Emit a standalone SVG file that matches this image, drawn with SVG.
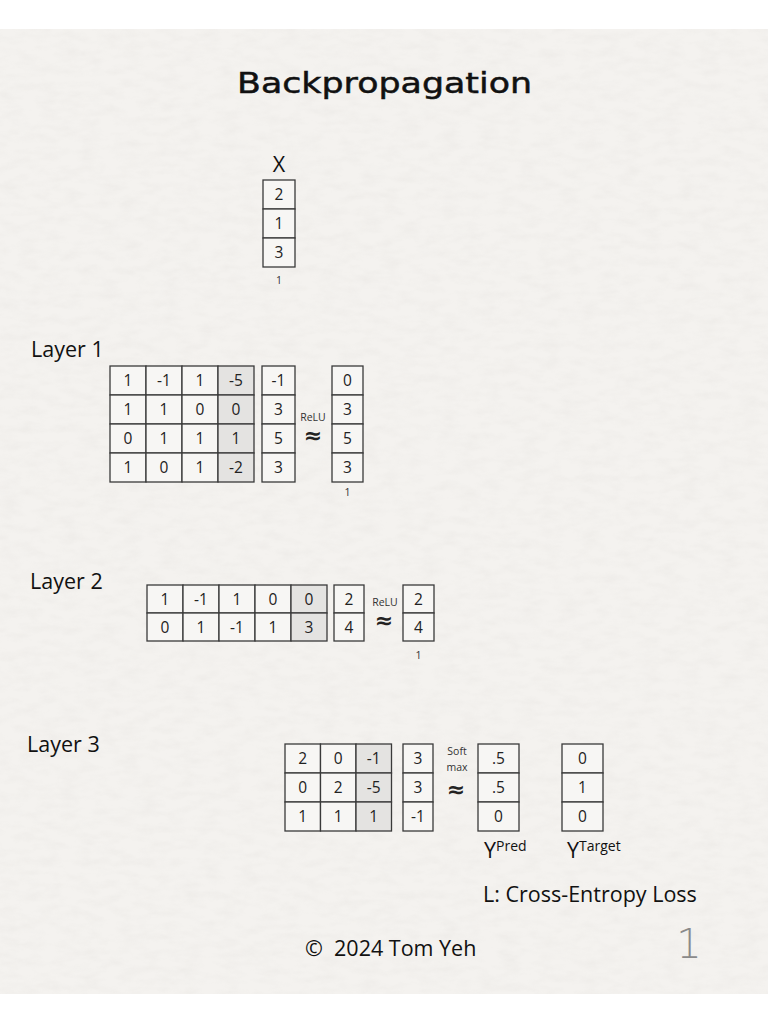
<svg xmlns="http://www.w3.org/2000/svg" width="768" height="1024" viewBox="0 0 768 1024">
<defs>
<filter id="paper" x="0" y="0" width="100%" height="100%">
<feTurbulence type="fractalNoise" baseFrequency="0.05 0.12" numOctaves="3" seed="4" result="n"/>
<feColorMatrix in="n" type="matrix" values="0 0 0 0 0.55  0 0 0 0 0.53  0 0 0 0 0.5  0 0 0 -0.9 0.55" result="c"/>
<feComposite in="c" in2="SourceGraphic" operator="in"/>
</filter>
</defs>
<style>
.cell{fill:#f7f6f4;stroke:#3a3a3a;stroke-width:1.3}
.sh{fill:#e4e3e1;stroke:#3a3a3a;stroke-width:1.3}
.v{font-family:"Open Sans","Liberation Sans",sans-serif;font-size:15.5px;fill:#222;text-anchor:middle}
.lbl{font-family:"Open Sans","Liberation Sans",sans-serif;font-size:21.5px;fill:#111}
.sm{font-family:"Open Sans","Liberation Sans",sans-serif;font-size:10.5px;fill:#333;text-anchor:middle}
.ap{font-family:"DejaVu Sans",sans-serif;font-size:22px;font-weight:bold;fill:#222;text-anchor:middle}
</style>
<rect x="0" y="0" width="768" height="1024" fill="#ffffff"/>
<rect x="0" y="29" width="768" height="965" fill="#f4f2ef"/>
<rect x="0" y="29" width="768" height="965" fill="#f4f2ef" filter="url(#paper)" opacity="0.22"/>

<g id="title">
<text x="237" y="93" font-family="DejaVu Sans, sans-serif" font-size="29" fill="#111" stroke="#111" stroke-width="0.5" textLength="295" lengthAdjust="spacingAndGlyphs">Backpropagation</text>
</g>

<g id="x-vector">
<text x="279" y="172" class="lbl" text-anchor="middle" font-size="19">X</text>
<rect class="cell" x="263" y="180" width="32" height="29"/>
<rect class="cell" x="263" y="209" width="32" height="29"/>
<rect class="cell" x="263" y="238" width="32" height="29"/>
<text class="v" x="279" y="200">2</text>
<text class="v" x="279" y="229">1</text>
<text class="v" x="279" y="258">3</text>
<text class="sm" x="279" y="284">1</text>
</g>

<g id="layer1">
<text class="lbl" x="31" y="357">Layer 1</text>
<g id="layer1-weights">
<rect class="cell" x="110" y="366" width="36" height="29"/><rect class="cell" x="146" y="366" width="36" height="29"/><rect class="cell" x="182" y="366" width="36" height="29"/><rect class="sh" x="218" y="366" width="36" height="29"/>
<rect class="cell" x="110" y="395" width="36" height="29"/><rect class="cell" x="146" y="395" width="36" height="29"/><rect class="cell" x="182" y="395" width="36" height="29"/><rect class="sh" x="218" y="395" width="36" height="29"/>
<rect class="cell" x="110" y="424" width="36" height="29"/><rect class="cell" x="146" y="424" width="36" height="29"/><rect class="cell" x="182" y="424" width="36" height="29"/><rect class="sh" x="218" y="424" width="36" height="29"/>
<rect class="cell" x="110" y="453" width="36" height="29"/><rect class="cell" x="146" y="453" width="36" height="29"/><rect class="cell" x="182" y="453" width="36" height="29"/><rect class="sh" x="218" y="453" width="36" height="29"/>
<text class="v" x="128" y="386">1</text><text class="v" x="164" y="386">-1</text><text class="v" x="200" y="386">1</text><text class="v" x="236" y="386">-5</text>
<text class="v" x="128" y="415">1</text><text class="v" x="164" y="415">1</text><text class="v" x="200" y="415">0</text><text class="v" x="236" y="415">0</text>
<text class="v" x="128" y="444">0</text><text class="v" x="164" y="444">1</text><text class="v" x="200" y="444">1</text><text class="v" x="236" y="444">1</text>
<text class="v" x="128" y="473">1</text><text class="v" x="164" y="473">0</text><text class="v" x="200" y="473">1</text><text class="v" x="236" y="473">-2</text>
</g>
<g id="layer1-z">
<rect class="cell" x="262" y="366" width="33" height="29"/><rect class="cell" x="262" y="395" width="33" height="29"/><rect class="cell" x="262" y="424" width="33" height="29"/><rect class="cell" x="262" y="453" width="33" height="29"/>
<text class="v" x="278.5" y="386">-1</text><text class="v" x="278.5" y="415">3</text><text class="v" x="278.5" y="444">5</text><text class="v" x="278.5" y="473">3</text>
</g>
<text class="sm" x="313" y="421">ReLU</text>
<text class="ap" x="313" y="443">≈</text>
<g id="layer1-a">
<rect class="cell" x="332" y="366" width="31" height="29"/><rect class="cell" x="332" y="395" width="31" height="29"/><rect class="cell" x="332" y="424" width="31" height="29"/><rect class="cell" x="332" y="453" width="31" height="29"/>
<text class="v" x="347.5" y="386">0</text><text class="v" x="347.5" y="415">3</text><text class="v" x="347.5" y="444">5</text><text class="v" x="347.5" y="473">3</text>
<text class="sm" x="347.5" y="496">1</text>
</g>
</g>

<g id="layer2">
<text class="lbl" x="30" y="589">Layer 2</text>
<g id="layer2-weights">
<rect class="cell" x="147" y="585" width="36" height="28"/><rect class="cell" x="183" y="585" width="36" height="28"/><rect class="cell" x="219" y="585" width="36" height="28"/><rect class="cell" x="255" y="585" width="36" height="28"/><rect class="sh" x="291" y="585" width="36" height="28"/>
<rect class="cell" x="147" y="613" width="36" height="28"/><rect class="cell" x="183" y="613" width="36" height="28"/><rect class="cell" x="219" y="613" width="36" height="28"/><rect class="cell" x="255" y="613" width="36" height="28"/><rect class="sh" x="291" y="613" width="36" height="28"/>
<text class="v" x="165" y="604.5">1</text><text class="v" x="201" y="604.5">-1</text><text class="v" x="237" y="604.5">1</text><text class="v" x="273" y="604.5">0</text><text class="v" x="309" y="604.5">0</text>
<text class="v" x="165" y="632.5">0</text><text class="v" x="201" y="632.5">1</text><text class="v" x="237" y="632.5">-1</text><text class="v" x="273" y="632.5">1</text><text class="v" x="309" y="632.5">3</text>
</g>
<g id="layer2-z">
<rect class="cell" x="334" y="585" width="30" height="28"/><rect class="cell" x="334" y="613" width="30" height="28"/>
<text class="v" x="349" y="604.5">2</text><text class="v" x="349" y="632.5">4</text>
</g>
<text class="sm" x="385" y="606">ReLU</text>
<text class="ap" x="384" y="628">≈</text>
<g id="layer2-a">
<rect class="cell" x="403" y="585" width="31" height="28"/><rect class="cell" x="403" y="613" width="31" height="28"/>
<text class="v" x="418.5" y="604.5">2</text><text class="v" x="418.5" y="632.5">4</text>
<text class="sm" x="418.5" y="659">1</text>
</g>
</g>

<g id="layer3">
<text class="lbl" x="27" y="752">Layer 3</text>
<g id="layer3-weights">
<rect class="cell" x="285" y="744" width="35.5" height="29"/><rect class="cell" x="320.5" y="744" width="35.5" height="29"/><rect class="sh" x="356" y="744" width="35.5" height="29"/>
<rect class="cell" x="285" y="773" width="35.5" height="29"/><rect class="cell" x="320.5" y="773" width="35.5" height="29"/><rect class="sh" x="356" y="773" width="35.5" height="29"/>
<rect class="cell" x="285" y="802" width="35.5" height="29"/><rect class="cell" x="320.5" y="802" width="35.5" height="29"/><rect class="sh" x="356" y="802" width="35.5" height="29"/>
<text class="v" x="302.75" y="764">2</text><text class="v" x="338.25" y="764">0</text><text class="v" x="373.75" y="764">-1</text>
<text class="v" x="302.75" y="793">0</text><text class="v" x="338.25" y="793">2</text><text class="v" x="373.75" y="793">-5</text>
<text class="v" x="302.75" y="822">1</text><text class="v" x="338.25" y="822">1</text><text class="v" x="373.75" y="822">1</text>
</g>
<g id="layer3-z">
<rect class="cell" x="403" y="744" width="30" height="29"/><rect class="cell" x="403" y="773" width="30" height="29"/><rect class="cell" x="403" y="802" width="30" height="29"/>
<text class="v" x="418" y="764">3</text><text class="v" x="418" y="793">3</text><text class="v" x="418" y="822">-1</text>
</g>
<text class="sm" x="457" y="755">Soft</text>
<text class="sm" x="457" y="771">max</text>
<text class="ap" x="456" y="797">≈</text>
<g id="y-pred">
<rect class="cell" x="478" y="744" width="41" height="29"/><rect class="cell" x="478" y="773" width="41" height="29"/><rect class="cell" x="478" y="802" width="41" height="29"/>
<text class="v" x="498.5" y="764">.5</text><text class="v" x="498.5" y="793">.5</text><text class="v" x="498.5" y="822">0</text>
<text class="lbl" x="484" y="858" font-size="21">Y<tspan font-size="14" dy="-7">Pred</tspan></text>
</g>
<g id="y-target">
<rect class="cell" x="562" y="744" width="41" height="29"/><rect class="cell" x="562" y="773" width="41" height="29"/><rect class="cell" x="562" y="802" width="41" height="29"/>
<text class="v" x="582.5" y="764">0</text><text class="v" x="582.5" y="793">1</text><text class="v" x="582.5" y="822">0</text>
<text class="lbl" x="567" y="858" font-size="21">Y<tspan font-size="14" dy="-7">Target</tspan></text>
</g>
</g>

<g id="loss">
<text class="lbl" x="483" y="902" font-size="22.5">L: Cross-Entropy Loss</text>
</g>
<g id="footer">
<text class="lbl" x="305" y="956" font-size="18.6" xml:space="preserve">©  2024 Tom Yeh</text>
<text x="689" y="958" font-family="DejaVu Sans, sans-serif" font-size="40" font-weight="300" fill="#8a8a8a" text-anchor="middle">1</text>
</g>
</svg>
